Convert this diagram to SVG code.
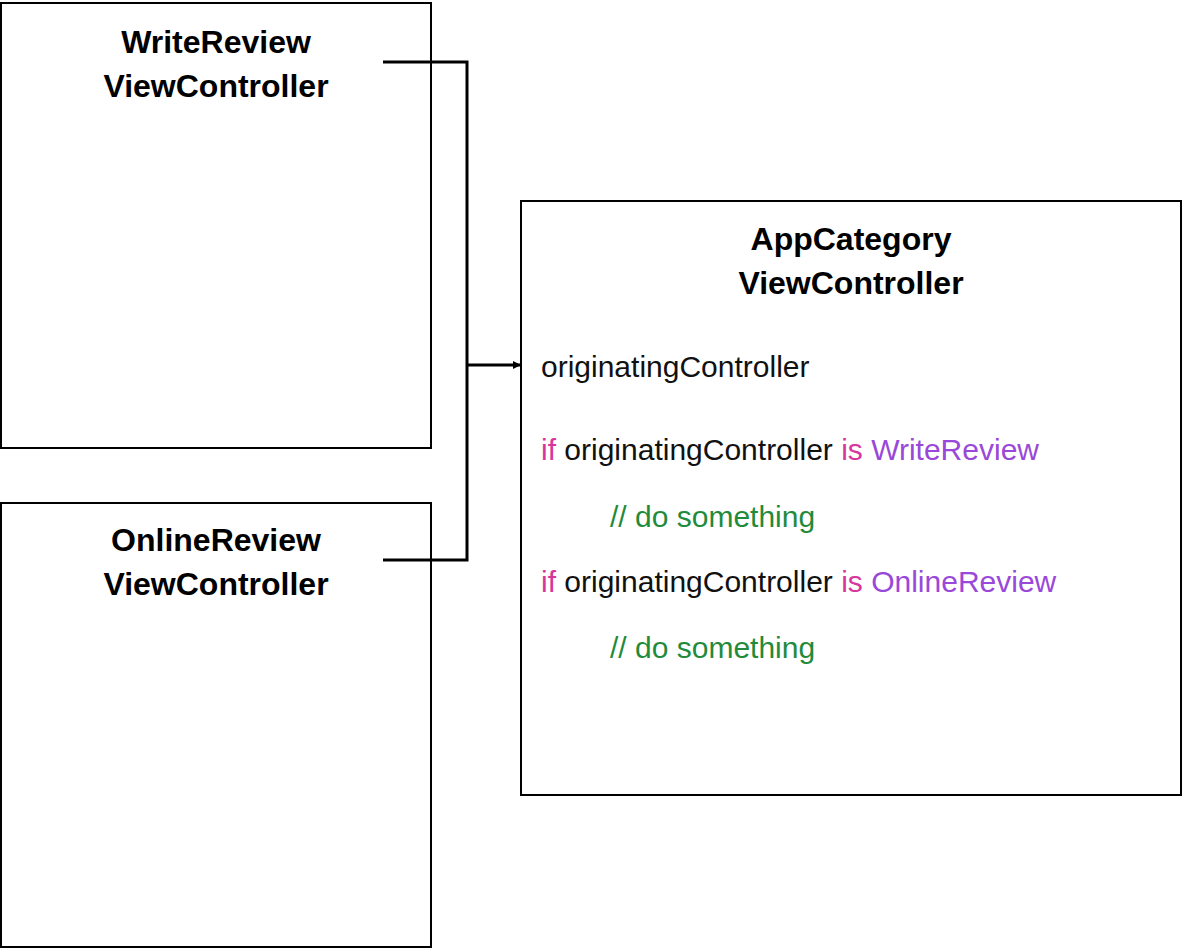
<svg xmlns="http://www.w3.org/2000/svg" width="1183" height="950" viewBox="0 0 1183 950">
<style>
.box{fill:#fff;stroke:#000;stroke-width:2}
.t{font-family:"Liberation Sans",Arial,sans-serif;font-size:32px;font-weight:bold;text-anchor:middle;fill:#000}
.b{font-family:"Liberation Sans",Arial,sans-serif;font-size:30px;fill:#111}
.k{fill:#d8369c}.c{fill:#9a48d9}.g{fill:#1f8b3b}
.ln{fill:none;stroke:#000;stroke-width:3}
</style>
<defs><marker id="ah" markerWidth="8" markerHeight="8" refX="7" refY="4" orient="auto" markerUnits="userSpaceOnUse"><path d="M0,0L8,4L0,8z" fill="#000"/></marker></defs>
<rect width="1183" height="950" fill="#fff"/>
<g id="writeReview"><rect class="box" x="1" y="3" width="430" height="445"/><text class="t" x="216" y="53">WriteReview</text><text class="t" x="216" y="97">ViewController</text></g>
<g id="onlineReview"><rect class="box" x="1" y="503" width="430" height="444"/><text class="t" x="216" y="551">OnlineReview</text><text class="t" x="216" y="595">ViewController</text></g>
<g id="appCategory"><rect class="box" x="521" y="201" width="660" height="594"/><text class="t" x="851" y="250">AppCategory</text><text class="t" x="851" y="294">ViewController</text>
<text class="b" x="541" y="377">originatingController</text>
<text class="b" x="541" y="460"><tspan class="k">if</tspan> originatingController <tspan class="k">is</tspan> <tspan class="c">WriteReview</tspan></text>
<text class="b g" x="610" y="527">// do something</text>
<text class="b" x="541" y="592"><tspan class="k">if</tspan> originatingController <tspan class="k">is</tspan> <tspan class="c">OnlineReview</tspan></text>
<text class="b g" x="610" y="658">// do something</text></g>
<g id="connectors"><path class="ln" d="M383,62H467V560H383"/><path class="ln" d="M467,365H520" marker-end="url(#ah)"/></g>
</svg>
